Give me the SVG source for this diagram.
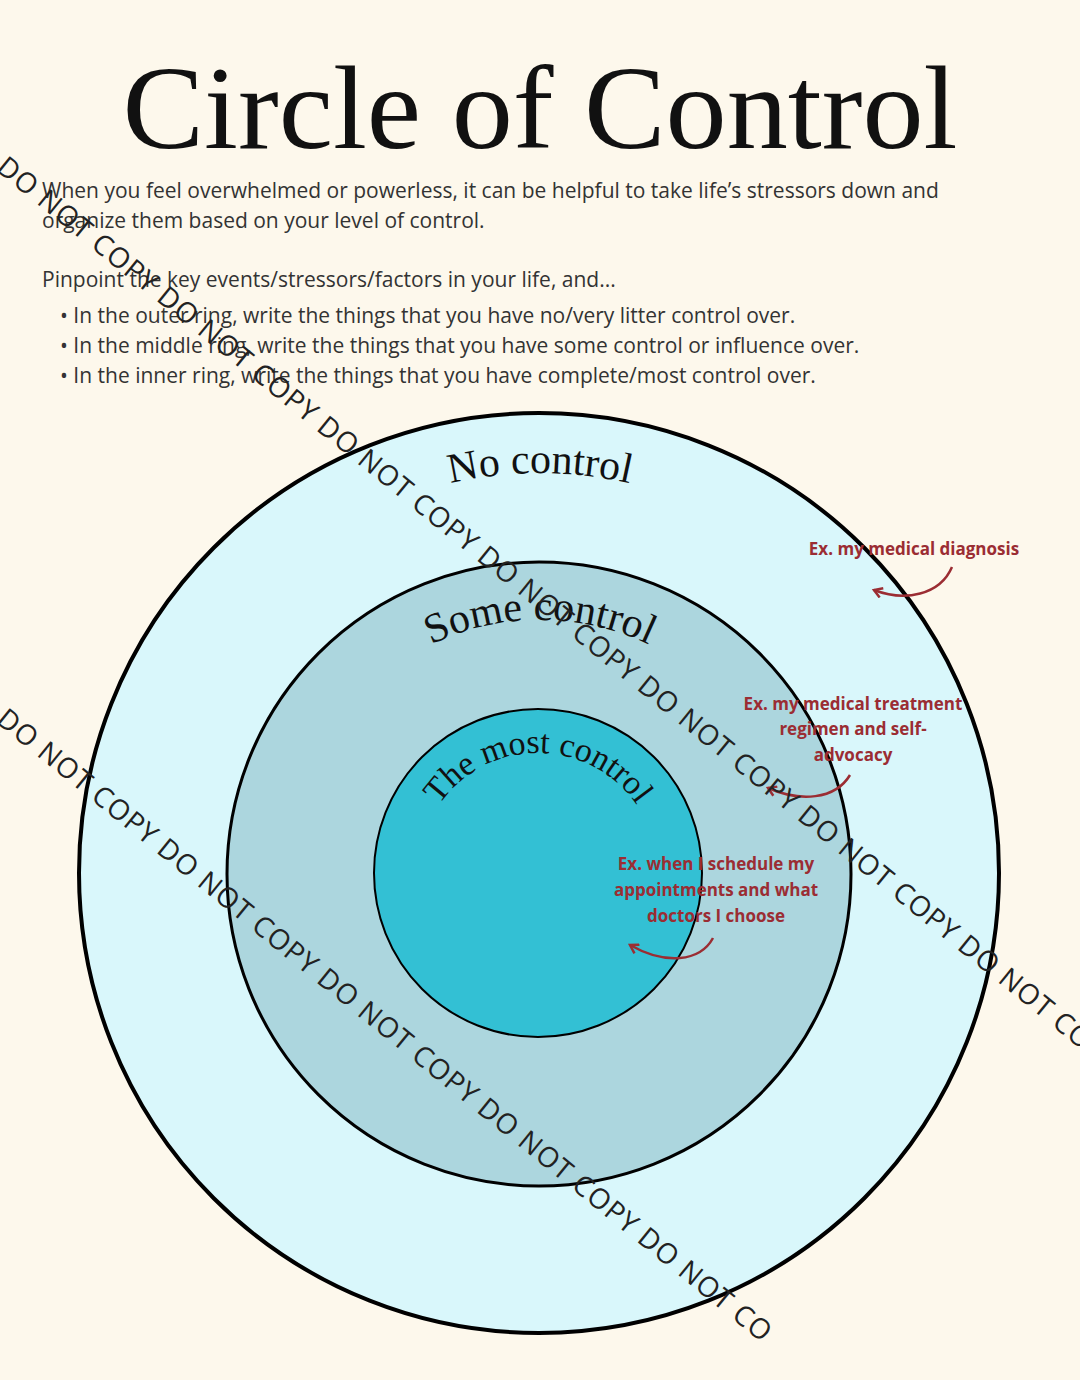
<svg xmlns="http://www.w3.org/2000/svg" width="1080" height="1380" viewBox="0 0 1080 1380">
<style>
.body{font-family:"Open Sans","Liberation Sans",sans-serif;font-size:21px;fill:#333}
.ring{font-family:"Liberation Serif","DejaVu Serif",serif;font-size:42px;fill:#111}
.note{font-family:"Open Sans","Liberation Sans",sans-serif;font-size:17px;font-weight:bold;fill:#9b2d33}
.wm{font-family:"Open Sans","Liberation Sans",sans-serif;font-size:28px;fill:#222;letter-spacing:1px}
.arr{fill:none;stroke:#9b2d33;stroke-width:2.5}
</style>
<defs>
<path id="pNo" d="M 140 873 A 400 400 0 0 1 940 873"/>
<path id="pSome" d="M 287 873 A 253 253 0 0 1 793 873"/>
<path id="pMost" d="M 418 873 A 120 120 0 0 1 658 873"/>
<marker id="ah" markerWidth="12" markerHeight="12" refX="9" refY="6" orient="auto" markerUnits="userSpaceOnUse">
<path d="M1 1 L9 6 L1 11" fill="none" stroke="#9b2d33" stroke-width="2.5"/>
</marker>
</defs>
<rect width="1080" height="1380" fill="#fdf8ec"/>
<text x="540" y="148" text-anchor="middle" textLength="835" lengthAdjust="spacingAndGlyphs" font-family="Liberation Serif, serif" font-size="118" fill="#111">Circle of Control</text>
<g class="body">
<text x="42" y="198">When you feel overwhelmed or powerless, it can be helpful to take life’s stressors down and</text>
<text x="42" y="228">organize them based on your level of control.</text>
<text x="42" y="287">Pinpoint the key events/stressors/factors in your life, and...</text>
<text x="60" y="323">•  In the outer ring, write the things that you have no/very litter control over.</text>
<text x="60" y="353">•  In the middle ring, write the things that you have some control or influence over.</text>
<text x="60" y="383">•  In the inner ring, write the things that you have complete/most control over.</text>
</g>
<g id="outer"><circle cx="539" cy="873" r="460" fill="#d9f7fb" stroke="#000" stroke-width="4"/>
<text class="ring"><textPath href="#pNo" startOffset="50%" text-anchor="middle">No control</textPath></text></g>
<g id="middle"><circle cx="539" cy="874" r="312" fill="#acd6de" stroke="#000" stroke-width="3"/>
<text class="ring"><textPath href="#pSome" startOffset="50%" text-anchor="middle">Some control</textPath></text></g>
<g id="inner"><circle cx="538" cy="873" r="164" fill="#33c0d4" stroke="#000" stroke-width="2"/>
<text class="ring" style="font-size:34px"><textPath href="#pMost" startOffset="50%" text-anchor="middle">The most control</textPath></text></g>
<g id="notes">
<text class="note" x="914" y="555" text-anchor="middle">Ex. my medical diagnosis</text>
<text class="note" text-anchor="middle"><tspan x="853" y="710">Ex. my medical treatment</tspan><tspan x="853" y="735">regimen and self-</tspan><tspan x="853" y="761">advocacy</tspan></text>
<text class="note" text-anchor="middle"><tspan x="716" y="870">Ex. when I schedule my</tspan><tspan x="716" y="896">appointments and what</tspan><tspan x="716" y="922">doctors I choose</tspan></text>
</g>
<g id="connectors">
<path class="arr" marker-end="url(#ah)" d="M952 567 C940 595 905 602 874 590"/>
<path class="arr" marker-end="url(#ah)" d="M850 775 C835 800 800 802 768 788"/>
<path class="arr" marker-end="url(#ah)" d="M713 938 C700 962 665 965 630 945"/>
</g>
<g id="watermark">
<text class="wm" transform="translate(-5,170) rotate(39)">DO NOT COPY DO NOT COPY DO NOT COPY DO NOT COPY DO NOT COPY DO NOT COPY DO NOT COPY</text>
<text class="wm" transform="translate(-5,722) rotate(39)">DO NOT COPY DO NOT COPY DO NOT COPY DO NOT COPY DO NOT CO</text>
</g>
</svg>
